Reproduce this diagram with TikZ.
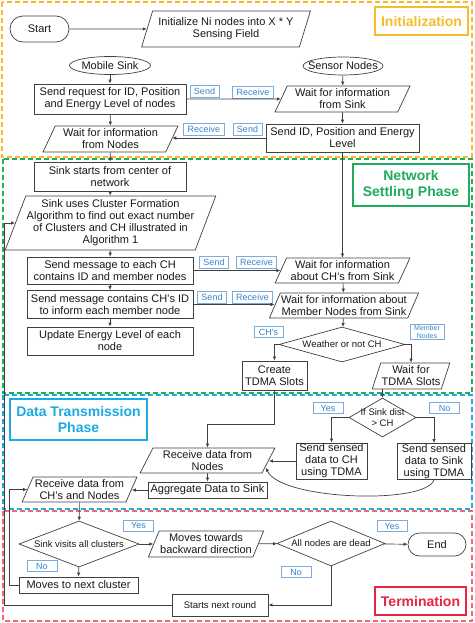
\documentclass[tikz,border=0pt]{standalone}
\usepackage{fontspec}
\setmainfont{Liberation Sans}
\usetikzlibrary{arrows.meta, shapes.geometric, shapes.misc}

\definecolor{lineGray}{RGB}{64,64,64}
\definecolor{initYellow}{RGB}{246,188,45}
\definecolor{netGreen}{RGB}{32,172,92}
\definecolor{dataCyan}{RGB}{28,170,226}
\definecolor{termRed}{RGB}{232,36,64}
\definecolor{termPink}{RGB}{242,104,118}
\definecolor{tagBlue}{RGB}{58,132,200}
\definecolor{tagEdge}{RGB}{122,172,222}

\begin{document}
\begin{tikzpicture}[x=1pt, y=-1pt,
  every node/.style={font=\fontsize{11}{12}\selectfont, text=black!90, align=center},
  proc/.style={draw=lineGray, line width=0.7pt, fill=white, inner sep=1pt},
  io/.style={draw=lineGray, line width=0.7pt, fill=white, trapezium, trapezium left angle=64, trapezium right angle=116, trapezium stretches=true, inner sep=1pt},
  term/.style={draw=lineGray, line width=0.7pt, rounded rectangle, inner sep=1pt},
  oval/.style={draw=lineGray, line width=0.7pt, ellipse, inner xsep=-8pt, inner ysep=0pt},
  dec/.style={draw=lineGray, line width=0.7pt, diamond, inner sep=0pt, font=\fontsize{9.5}{11}\selectfont},
  tag/.style={draw=tagEdge, line width=0.6pt, fill=white, text=tagBlue, font=\fontsize{9}{10}\selectfont, inner xsep=4pt, inner ysep=1pt, minimum height=12pt},
  yesno/.style={tag, minimum width=30pt, minimum height=11pt},
  phase/.style={line width=1.3pt, dash pattern=on 5pt off 3pt},
  title/.style={line width=1.2pt, fill=white, font=\fontsize{14}{16}\selectfont\bfseries, inner sep=1pt},
  arr/.style={draw=lineGray, line width=0.7pt, -{Latex[length=4pt, width=3.5pt]}}
]
\useasboundingbox (0,0) rectangle (474,623);

% Phase frames
\draw[phase, netGreen] (3,159) rectangle (472,393);
\draw[phase, dataCyan] (3,395) rectangle (472,509);
\draw[phase, termPink] (3,511) rectangle (472,621);
\draw[phase, initYellow] (2,2) rectangle (472,157);

% Initialization
\node[term, minimum width=61pt, minimum height=26pt] (start) at (39.5,29) {Start};
\node[io, trapezium left angle=67, trapezium right angle=113, minimum width=169pt, minimum height=36pt] (init) at (226,29) {Initialize Ni nodes into X * Y\\Sensing Field};
\node[title, draw=initYellow, text=initYellow, minimum width=93pt, minimum height=28pt] (tinit) at (421.5,21) {Initialization};
\node[oval, minimum width=81pt, minimum height=18pt] (msink) at (110,65.5) {Mobile Sink};
\node[oval, minimum width=80pt, minimum height=18pt] (snodes) at (343,66) {Sensor Nodes};
\node[proc, minimum width=152pt, minimum height=30pt] (req) at (110,99) {Send request for ID, Position\\and Energy Level of nodes};
\node[io, minimum width=135pt, minimum height=26pt] (wsink) at (342.5,99) {Wait for information\\from Sink};
\node[io, minimum width=135pt, minimum height=26pt] (wnodes) at (110.5,139) {Wait for information\\from Nodes};
\node[proc, minimum width=153pt, minimum height=28pt] (sid) at (342.5,138) {Send ID, Position and Energy\\Level};
\node[tag] (sendA) at (204.5,91.5) {Send};
\node[tag] (recvA) at (253,92) {Receive};
\node[tag] (recvB) at (204,129) {Receive};
\node[tag] (sendB) at (247.5,129.5) {Send};

% Network settling phase
\node[title, draw=netGreen, text=netGreen, minimum width=116pt, minimum height=42pt] (tnet) at (411,185) {Network\\Settling Phase};
\node[proc, minimum width=152pt, minimum height=29pt] (center) at (110,176.5) {Sink starts from center of\\network};
\node[io, trapezium left angle=67, trapezium right angle=113, minimum width=201pt, minimum height=54pt] (cfa) at (110.5,223) {Sink uses Cluster Formation\\Algorithm to find out exact number\\of Clusters and CH illustrated in\\Algorithm 1};
\node[proc, minimum width=166pt, minimum height=27pt] (msg1) at (110,270.5) {Send message to each CH\\contains ID and member nodes};
\node[proc, minimum width=166pt, minimum height=28pt] (msg2) at (110,304.5) {Send message contains CH's ID\\to inform each member node};
\node[proc, minimum width=166pt, minimum height=28pt] (upd) at (110,341) {Update Energy Level of each\\node};
\node[io, minimum width=135pt, minimum height=25pt] (wch) at (342.5,270.5) {Wait for information\\about CH's from Sink};
\node[io, minimum width=148pt, minimum height=25pt] (wmem) at (344,305.5) {Wait for information about\\Member Nodes from Sink};
\node[dec, aspect=3.6, minimum width=126pt, minimum height=35pt] (wnc) at (342,344.5) {Weather or not CH};
\node[proc, minimum width=65pt, minimum height=29pt] (ctdma) at (274.5,375.5) {Create\\TDMA Slots};
\node[io, trapezium left angle=69, trapezium right angle=111, minimum width=78pt, minimum height=26pt] (wtdma) at (411,376) {Wait for\\TDMA Slots};
\node[tag] (sendC) at (214,262.5) {Send};
\node[tag] (recvC) at (256.5,262.5) {Receive};
\node[tag] (sendD) at (212,297) {Send};
\node[tag] (recvD) at (252.5,297) {Receive};
\node[tag, minimum width=29pt, minimum height=11pt] (chs) at (268.5,332) {CH's};
\node[tag, font=\fontsize{7}{8}\selectfont, inner xsep=2pt, minimum width=34pt] (memb) at (427,331.5) {Member\\Nodes};

% Data transmission phase
\node[title, draw=dataCyan, text=dataCyan, minimum width=137pt, minimum height=41pt] (tdata) at (78.5,419.5) {Data Transmission\\Phase};
\node[dec, aspect=1.7, inner sep=-5pt, minimum width=67pt, minimum height=39pt] (ifd) at (382.5,417.5) {If Sink dist\\> CH};
\node[proc, minimum width=71pt, minimum height=36pt] (sch) at (331.5,461) {Send sensed\\data to CH\\using TDMA};
\node[proc, minimum width=74pt, minimum height=36pt] (ssink) at (434,461.5) {Send sensed\\data to Sink\\using TDMA};
\node[io, minimum width=135pt, minimum height=25pt] (rnodes) at (207.5,460.5) {Receive data from\\Nodes};
\node[proc, minimum width=119pt, minimum height=16pt] (agg) at (207.5,490) {Aggregate Data to Sink};
\node[io, minimum width=115pt, minimum height=25pt] (rch) at (79.5,489.5) {Receive data from\\CH's and Nodes};
\node[yesno] (yesA) at (328,408) {Yes};
\node[yesno] (noA) at (444.5,408) {No};

% Termination
\node[title, draw=termRed, text=termRed, minimum width=91pt, minimum height=28pt] (tterm) at (420.5,601) {Termination};
\node[dec, aspect=2.6, minimum width=120pt, minimum height=46pt] (svc) at (79,544) {Sink visits all clusters};
\node[io, minimum width=114pt, minimum height=26pt] (mtb) at (206,544) {Moves towards\\backward direction};
\node[proc, minimum width=119pt, minimum height=16pt] (mnc) at (78.5,585) {Moves to next cluster};
\node[dec, aspect=2.4, minimum width=108pt, minimum height=45pt] (dead) at (331,543.5) {All nodes are dead};
\node[term, minimum width=60pt, minimum height=23pt] (end) at (437,544.5) {End};
\node[proc, font=\fontsize{9.5}{11}\selectfont, minimum width=96pt, minimum height=22pt] (snr) at (220,605) {Starts next round};
\node[yesno] (yesB) at (138.5,525.5) {Yes};
\node[yesno] (noB) at (42,566) {No};
\node[yesno] (yesC) at (392,526) {Yes};
\node[yesno] (noC) at (296,572) {No};

% Connectors: initialization
\draw[arr] (start) -- (init);
\draw[arr] (msink) -- (req);
\draw[arr] (req) -- (wnodes);
\draw[arr] (wnodes) -- (center);
\draw[arr] (snodes) -- (wsink);
\draw[arr] (wsink) -- (sid);
\draw[arr] (sid) -- (wch);
\draw[arr] (req.east) -- (wsink);
\draw[arr] (sid.west) -- (sid.west -| wnodes.east);

% Connectors: network settling
\draw[arr] (center) -- (cfa);
\draw[arr] (cfa) -- (msg1);
\draw[arr] (msg1) -- (msg2);
\draw[arr] (msg2) -- (upd);
\draw[arr] (msg1.east) -- (msg1.east -| wch.west);
\draw[arr] (msg2.east) -- (msg2.east -| wmem.west);
\draw[arr] (wch) -- (wmem);
\draw[arr] (wmem) -- (wnc);
\draw[arr] (wnc.west) -| (ctdma.north);
\draw[arr] (wnc.east) -| (wtdma.north);

% Connectors: data transmission
\draw[arr] (ctdma.south) -- ++(0,34) -| (rnodes.north);
\draw[arr] (ifd.north |- wtdma.south) -- (ifd.north);
\draw[arr] (ifd.west) -| (sch.north);
\draw[arr] (ifd.east) -| (ssink.north);
\draw[arr] (sch.west) -- (sch.west -| rnodes.east);
\draw[arr] (ssink.south) .. controls (425,505) and (280,500) .. ([shift={(-3,7)}]rnodes.east);
\draw[arr] (rnodes) -- (agg);
\draw[arr] (agg.west) -- (agg.west -| rch.east);
\draw[arr] (rch) -- (svc);

% Connectors: termination
\draw[arr] (svc) -- (mtb);
\draw[arr] (svc) -- (mnc);
\draw[arr] (mnc.west) -- ++(-9,0) |- (rch.west);
\draw[arr] (mtb) -- (dead);
\draw[arr] (dead) -- (end);
\draw[arr] (dead.south) |- (snr.east);
\draw[arr] (snr.west) -- ++(-167,0) |- (cfa.west);
\end{tikzpicture}
\end{document}
